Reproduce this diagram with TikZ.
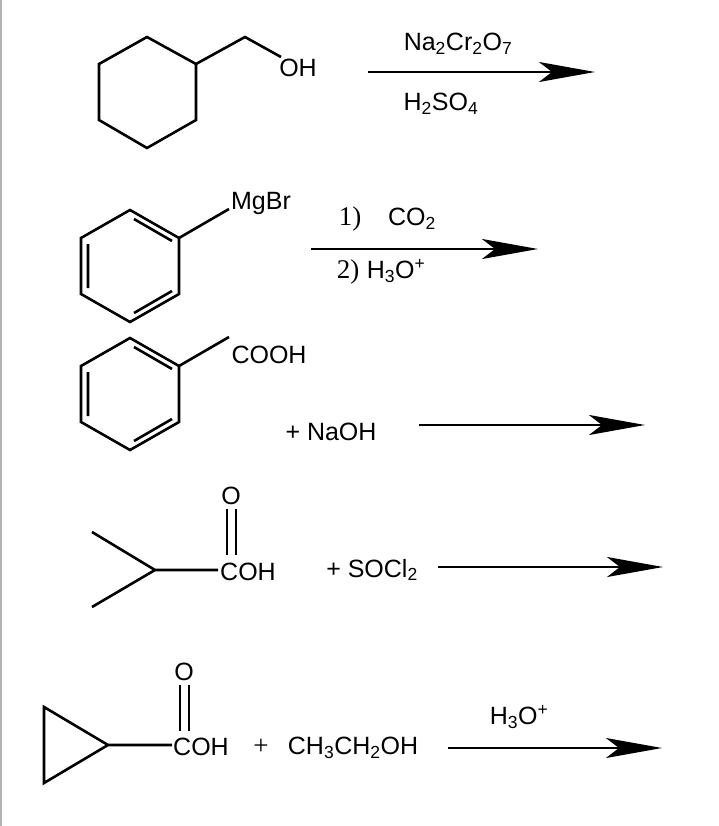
\documentclass[tikz,border=0pt]{standalone}
\usepackage{fontspec}
\setmainfont{Liberation Sans}
\newfontfamily\serifx{Liberation Serif}
\usetikzlibrary{arrows.meta}
\newcommand{\sbs}[1]{\textsubscript{#1}}
\newcommand{\sps}[1]{\textsuperscript{#1}}
\begin{document}
\begin{tikzpicture}[x=1pt,y=-1pt,
  bond/.style={line width=2.6pt,line join=miter},
  rxn/.style={line width=2.6pt,-{Stealth[length=56pt,width=20pt,inset=13pt]}},
  lab/.style={font=\fontsize{25}{28}\selectfont,inner sep=0pt},
  ser/.style={font=\serifx\fontsize{27}{28}\selectfont,inner sep=0pt}]
\useasboundingbox (0,0) rectangle (719,826);
\fill[white] (0,0) rectangle (719,826);
\draw[gray!60,line width=1.5pt] (1,0) -- (1,826);
% 1
\draw[bond] (147,37)--(196,64)--(196,120)--(147,148)--(99,120)--(99,64)--cycle;
\draw[bond] (196,64)--(245,37)--(281,57);
\node[lab] (oh1) at (298,68) {OH};
\coordinate (a1s) at (368,72); \coordinate (a1e) at (595,72);
\draw[rxn] (a1s)--(a1e);
\node[lab] (r1a) at (458,44) {Na\sbs{2}Cr\sbs{2}O\sbs{7}};
\node[lab] (r1b) at (441,104) {H\sbs{2}SO\sbs{4}};
% 2
\draw[bond] (130,210)--(179,238)--(179,294)--(130,322)--(81,294)--(81,238)--cycle;
\draw[bond] (88,244)--(88,288) (134,219)--(172,241) (134,313)--(172,291);
\draw[bond] (179,238)--(229,209);
\node[lab] (mg) at (261,203) {MgBr};
\coordinate (a2s) at (311,249); \coordinate (a2e) at (538,249);
\draw[rxn] (a2s)--(a2e);
\node[ser] (n1) at (350,219) {1)};
\node[lab] (co2) at (412,219) {CO\sbs{2}};
\node[ser] (n2) at (348,272) {2)};
\node[lab] (h3o) at (396,271) {H\sbs{3}O\sps{+}};
% 3
\draw[bond] (130,338)--(179,366)--(179,422)--(130,450)--(81,422)--(81,366)--cycle;
\draw[bond] (88,372)--(88,416) (134,347)--(172,369) (134,441)--(172,419);
\draw[bond] (179,366)--(229,337);
\node[lab] (cooh) at (269,355) {COOH};
\node[lab] (naoh) at (331,432) {+ NaOH};
\coordinate (a3s) at (419,425); \coordinate (a3e) at (645,425);
\draw[rxn] (a3s)--(a3e);
% 4
\draw[bond] (92,532)--(155,570)--(92,607) (155,570)--(218,570);
\node[lab] (coh1) at (248,572) {COH};
\node[lab] (o1) at (231,496) {O};
\draw[bond] (227,509)--(227,555) (236,509)--(236,555);
\node[lab] (socl) at (372,570) {+ SOCl\sbs{2}};
\coordinate (a4s) at (438,567); \coordinate (a4e) at (663,567);
\draw[rxn] (a4s)--(a4e);
% 5
\draw[bond] (44,707)--(108,745)--(44,783)--cycle (108,745)--(172,745);
\node[lab] (coh2) at (201,747) {COH};
\node[lab] (o2) at (184,672) {O};
\draw[bond] (180,685)--(180,731) (189,685)--(189,731);
\node[ser] (pl) at (261,747) {+};
\node[lab] (etoh) at (353,748) {CH\sbs{3}CH\sbs{2}OH};
\coordinate (a5s) at (448,748); \coordinate (a5e) at (662,748);
\draw[rxn] (a5s)--(a5e);
\node[lab] (h3o2) at (519,717) {H\sbs{3}O\sps{+}};
\end{tikzpicture}
\end{document}
